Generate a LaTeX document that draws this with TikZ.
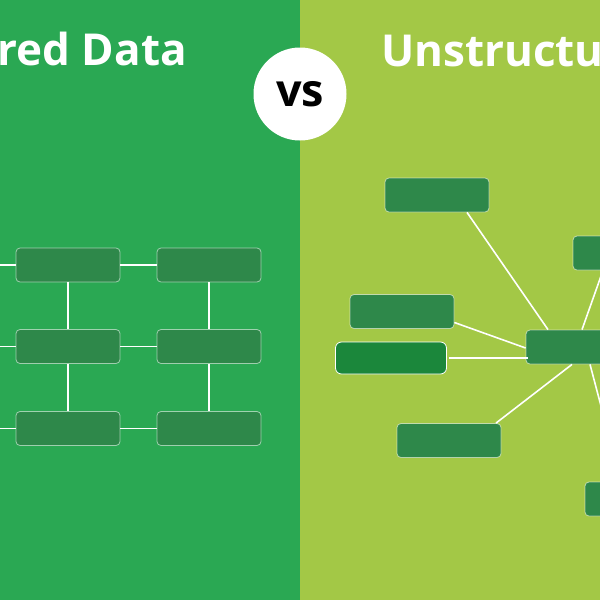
\documentclass[tikz,border=0pt]{standalone}
\usepackage{fontspec}
\setmainfont{Open Sans}
\definecolor{leftgreen}{RGB}{42,168,83}
\definecolor{rightgreen}{RGB}{163,200,70}
\definecolor{boxgreen}{RGB}{46,136,74}
\definecolor{oddgreen}{RGB}{27,135,59}

\begin{document}
\begin{tikzpicture}[x=1pt,y=-1pt,
  box/.style={draw=white,draw opacity=0.55,line width=0.8pt,fill=boxgreen,rounded corners=4pt,minimum width=104pt,minimum height=34pt,inner sep=0pt},
  oddbox/.style={box,draw opacity=1,fill=oddgreen,rounded corners=6pt,minimum width=111pt,minimum height=32pt},
  link/.style={draw=white,line width=1.6pt},
  title/.style={text=white,font=\bfseries\fontsize{44}{52}\selectfont,inner sep=0pt}]
  \useasboundingbox (0,0) rectangle (600,600);
  \clip (0,0) rectangle (600,600);
  \fill [leftgreen] (0,0) rectangle (300,600);
  \fill [rightgreen] (300,0) rectangle (600,600);
  \node [title,anchor=base east] (lt) at (187,65) {Structured Data};
  \node [title,anchor=base west] (rt) at (381,66) {Unstructured Data};
  \node [circle,fill=white,minimum size=93pt,inner sep=0pt,font=\bfseries\fontsize{45}{54}\selectfont] (vs) at (300,94) {vs};
  \coordinate (w1) at (-40,265);
  \coordinate (w2) at (-40,346.5);
  \coordinate (w3) at (-40,428.5);
  \node [box] (s11) at (68,265) {};
  \node [box] (s12) at (209,265) {};
  \node [box] (s21) at (68,346.5) {};
  \node [box] (s22) at (209,346.5) {};
  \node [box] (s31) at (68,428.5) {};
  \node [box] (s32) at (209,428.5) {};
  \draw [link] (w1) -- (s11);
  \draw [link] (w2) -- (s21);
  \draw [link] (w3) -- (s31);
  \draw [link] (s11) -- (s12);
  \draw [link] (s21) -- (s22);
  \draw [link] (s31) -- (s32);
  \draw [link] (s11) -- (s21);
  \draw [link] (s21) -- (s31);
  \draw [link] (s12) -- (s22);
  \draw [link] (s22) -- (s32);
  \node [box] (a) at (437,195) {};
  \node [box] (b) at (625,253) {};
  \node [box] (c) at (402,311.5) {};
  \node [oddbox] (d) at (391,358) {};
  \node [box] (e) at (578,347) {};
  \node [box] (f) at (449,440.5) {};
  \node [box] (g) at (637,499) {};
  \draw [link] ([xshift=30pt]a.south) -- ([xshift=-30pt]e.north);
  \draw [link] ([yshift=-11pt]c.east) -- ([yshift=-1pt]e.west);
  \draw [link] ([xshift=2pt]d.east) -- ([xshift=2pt]d.east -| e.west);
  \draw [link] ([xshift=47pt]f.north) -- ([xshift=-6pt]e.south);
  \draw [link] ([xshift=4pt]e.north) -- ([xshift=-22pt]b.south);
  \draw [link] ([xshift=12pt]e.south) -- ([xshift=-16pt]g.north);
\end{tikzpicture}
\end{document}
